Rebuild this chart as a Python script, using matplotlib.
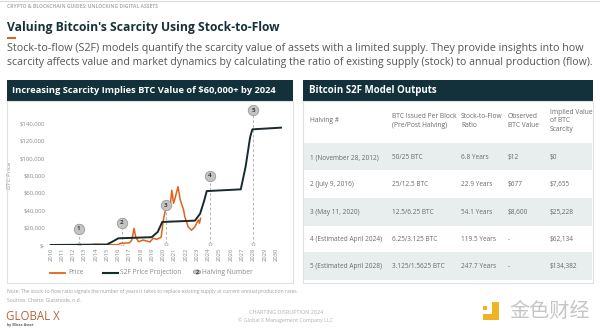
import numpy as np
import matplotlib.pyplot as plt
from matplotlib.patches import Rectangle, Circle
from matplotlib.lines import Line2D

# ---- data ----
s2f_years = [2010.0, 2014.97, 2015.5, 2016.0, 2018.97, 2019.5, 2019.9, 2022.8, 2023.26, 2023.6, 2023.85,
             2026.87, 2027.3, 2027.7, 2027.9, 2030.5]
s2f_vals = [0, 500, 4000, 7700, 9000, 15000, 26500, 28000, 36000, 50000, 62000,
            64000, 90000, 124000, 133000, 135000]

price_years = [2010.0, 2012.0, 2013.5, 2014.0, 2015.0, 2016.0, 2016.2, 2016.6, 2017.0, 2017.2, 2017.4, 2017.55,
               2017.8, 2018.2, 2018.8, 2019.1, 2019.4, 2019.8, 2020.0, 2020.3, 2020.6, 2020.75, 2020.9,
               2021.0, 2021.3, 2021.5, 2021.6, 2021.8, 2021.9, 2022.2, 2022.5, 2022.8, 2023.1, 2023.2, 2023.3]
price_vals = [0, 10, 200, 800, 250, 450, 2000, 2200, 2500, 5700, 19000, 8800,
              3800, 5700, 3500, 7700, 6600, 8800, 28700, 48000, 44000, 63000, 48000,
              52000, 67000, 52000, 48000, 40000, 32500, 21000, 17000, 21000, 28700, 25000, 30700]

halving_num = [1, 2, 3, 4, 5]
halving_x = [2012.5, 2016.3, 2020.2, 2024.1, 2028.0]
halving_y = [18600, 25600, 45700, 79400, 155000]

year_ticks = list(range(2010, 2031))
price_ticks = [0, 20000, 40000, 60000, 80000, 100000, 120000, 140000]
price_tick_labels = ['$-', '$20,000', '$40,000', '$60,000', '$80,000', '$100,000', '$120,000', '$140,000']

table_head = ['Halving #', 'BTC Issued Per Block\n(Pre/Post Halving)', 'Stock-to-Flow\nRatio',
              'Observed\nBTC Value', 'Implied Value\nof BTC\nScarcity']
table_rows = [
    ['1 (November 28, 2012)', '50/25 BTC', '6.8 Years', '$12', '$0'],
    ['2 (July 9, 2016)', '25/12.5 BTC', '22.9 Years', '$677', '$7,655'],
    ['3 (May 11, 2020)', '12.5/6.25 BTC', '54.1 Years', '$8,600', '$25,228'],
    ['4 (Estimated April 2024)', '6.25/3.125 BTC', '119.5 Years', '-', '$62,134'],
    ['5 (Estimated April 2028)', '3.125/1.5625 BTC', '247.7 Years', '-', '$134,382'],
]

W, H = 600, 333
DARK = '#12313a'
ORANGE = '#e2621b'
plt.rcParams['font.family'] = ['Open Sans', 'DejaVu Sans']

fig = plt.figure(figsize=(W / 100, H / 100), dpi=100)
fig.patch.set_facecolor('white')


def fx(x):
    return x / W


def fy(y):
    return 1 - y / H


def ftext(x, y, s, **kw):
    fig.text(fx(x), fy(y), s, **kw)


def frect(x0, y0, x1, y1, **kw):
    fig.add_artist(Rectangle((fx(x0), fy(y1)), (x1 - x0) / W, (y1 - y0) / H,
                             transform=fig.transFigure, **kw))


def fline(x0, y0, x1, y1, **kw):
    fig.add_artist(Line2D([fx(x0), fx(x1)], [fy(y0), fy(y1)], transform=fig.transFigure, **kw))


# ---- header area ----
fline(0, 1, 600, 1, color='#d8d8d8', lw=0.8)
ftext(7, 7, 'CRYPTO & BLOCKCHAIN GUIDES: UNLOCKING DIGITAL ASSETS', fontsize=3.6, color='#b0b0b0',
      va='center', fontweight='bold')
ftext(7, 27, "Valuing Bitcoin's Scarcity Using Stock-to-Flow", fontsize=8.7, fontweight='bold',
      color='#18303a', va='center')
frect(7, 36.5, 16, 38.5, color=ORANGE, lw=0)
ftext(7, 49, 'Stock-to-flow (S2F) models quantify the scarcity value of assets with a limited supply. '
             'They provide insights into how', fontsize=7.75, color='#555555', va='center')
ftext(7, 62, 'scarcity affects value and market dynamics by calculating the ratio of existing supply '
             '(stock) to annual production (flow).', fontsize=7.6, color='#555555', va='center')

# ---- panel boxes ----
frect(7, 80, 293, 101, color=DARK, lw=0)
ftext(12, 90.5, 'Increasing Scarcity Implies BTC Value of $60,000+ by 2024', fontsize=6.75, fontweight='bold',
      color='white', va='center')
frect(7, 101, 293, 283, facecolor='none', edgecolor='#e0e0e0', lw=0.8)

frect(303, 80, 593, 101, color=DARK, lw=0)
ftext(309, 90.5, 'Bitcoin S2F Model Outputs', fontsize=7, fontweight='bold', color='white', va='center')
frect(303, 101, 593, 283, facecolor='none', edgecolor='#e0e0e0', lw=0.8)

# ---- chart ----
ax = fig.add_axes([fx(48), fy(245), (282 - 48) / W, (245 - 105) / H])
ax.set_xlim(2009.76, 2030.53)
ax.set_ylim(0, 161000)
ax.set_facecolor('none')
for s in ax.spines.values():
    s.set_visible(False)

for n, hx, hy in zip(halving_num, halving_x, halving_y):
    ax.plot([hx, hx], [1500, hy - 5500], ls=(0, (3, 2)), color='#b8b8b8', lw=0.7, zorder=1)
    ax.plot(hx, 1500, 'o', ms=2.2, mfc='white', mec='#b8b8b8', mew=0.6, zorder=2)
    ax.plot(hx, hy, 'o', ms=7.5, mfc='#c4c4c4', mec='#9a9a9a', mew=0.6, zorder=5)
    ax.text(hx, hy, str(n), fontsize=4.5, ha='center', va='center', color='#404040', zorder=6,
            fontweight='bold')

ax.plot(price_years, price_vals, color=ORANGE, lw=1.1, zorder=3)
ax.plot(s2f_years, s2f_vals, color='#172a2c', lw=1.4, zorder=4)

ax.set_xticks(year_ticks)
ax.set_xticklabels([str(y) for y in year_ticks], rotation=90, fontsize=4.2, color='#8a8a8a')
ax.set_yticks(price_ticks)
ax.set_yticklabels(price_tick_labels, fontsize=4.3, color='#8a8a8a')
ax.tick_params(length=0, pad=2)
ax.set_ylabel('BTC Price', fontsize=4.5, color='#8a8a8a', labelpad=6)

# legend
fline(50, 273, 65, 273, color=ORANGE, lw=1.3)
ftext(68, 273, 'Price', fontsize=4.8, color='#8a8a8a', va='center')
fline(103, 273, 118, 273, color='#172a2c', lw=1.5)
ftext(120, 273, 'S2F Price Projection', fontsize=4.8, color='#8a8a8a', va='center')
fig.add_artist(Circle((fx(197), fy(272)), 3.8 / W, transform=fig.transFigure,
                      facecolor='#c4c4c4', edgecolor='#9a9a9a', lw=0.5))
ftext(197, 272, '2', fontsize=4, color='#404040', ha='center', va='center', fontweight='bold')
ftext(202, 272, 'Halving Number', fontsize=4.8, color='#8a8a8a', va='center')

# ---- table ----
col_x = [310, 392, 461, 508, 550]
row_top = [143, 170, 198, 225, 252]
row_h = 27.5
for i, row in enumerate(table_rows):
    if i % 2 == 0:
        frect(304, row_top[i], 592, row_top[i] + row_h, color='#e8eded', lw=0)
    for cx, val in zip(col_x, row):
        ftext(cx, row_top[i] + row_h / 2 + 1, val, fontsize=4.7, color='#6a6a6a', va='center')
for cx, val in zip(col_x, table_head):
    ftext(cx, 121, val, fontsize=4.8, color='#6a6a6a', va='center', linespacing=1.25)

# ---- footer ----
ftext(7, 291, 'Note: The stock-to-flow ratio signals the number of years it takes to replace existing supply '
              'at current annual production rates.', fontsize=3.6, color='#a0a0a0', va='center')
ftext(7, 300, 'Sources: Charts: Glassnode, n.d.', fontsize=3.6, color='#a0a0a0', va='center')
ftext(6, 317, 'GLOBAL X', fontsize=8.3, color='#b5643a', va='center')
ftext(7, 325, 'by Mirae Asset', fontsize=2.6, color='#606060', va='center', fontweight='bold')
ftext(286, 313, 'CHARTING DISRUPTION 2024', fontsize=4, color='#b0b0b0', ha='center', va='center')
ftext(286, 320, '\u00a9 Global X Management Company LLC', fontsize=3.8, color='#b0b0b0', ha='center',
      va='center')

# watermark
frect(482.7, 305.7, 487.3, 310, color='#f0b323', lw=0)
frect(491.7, 301.7, 499.3, 320, color='#f0b323', lw=0)
frect(482.7, 314.3, 499.3, 320, color='#f0b323', lw=0)
fig.text(fx(509), fy(311), '金色财经', fontsize=14.5, color='#c6c6c6', va='center',
         family=['Noto Sans CJK SC', 'DejaVu Sans'])

fig.savefig('out.png', dpi=100)
